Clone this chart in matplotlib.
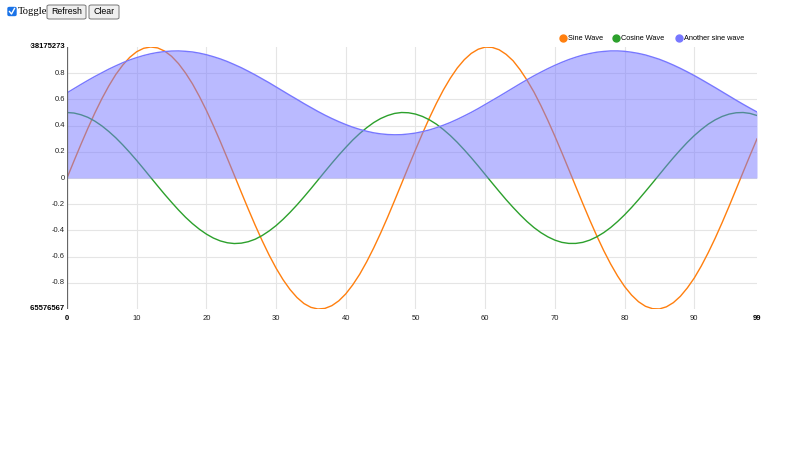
import matplotlib
matplotlib.use("Agg")
import matplotlib.pyplot as plt
from matplotlib.patches import FancyBboxPatch
from matplotlib.lines import Line2D
from matplotlib.transforms import Bbox, TransformedBbox

x_values = list(range(100))

sine_wave = [0.000, 0.130, 0.257, 0.380, 0.497, 0.605, 0.703, 0.790, 0.862, 0.921,
             0.964, 0.990, 1.000, 0.993, 0.969, 0.929, 0.873, 0.802, 0.719, 0.622,
             0.516, 0.400, 0.278, 0.151, 0.022, -0.108, -0.236, -0.360, -0.478, -0.588,
             -0.688, -0.776, -0.851, -0.912, -0.958, -0.987, -0.9995, -0.995, -0.974, -0.937,
             -0.884, -0.815, -0.734, -0.639, -0.534, -0.420, -0.299, -0.172, -0.043, 0.087,
             0.215, 0.340, 0.459, 0.570, 0.672, 0.762, 0.840, 0.903, 0.951, 0.983,
             0.999, 0.997, 0.979, 0.944, 0.895, 0.827, 0.747, 0.656, 0.552, 0.439,
             0.319, 0.194, 0.065, -0.065, -0.194, -0.320, -0.440, -0.553, -0.656, -0.748,
             -0.828, -0.893, -0.944, -0.979, -0.997, -0.999, -0.983, -0.951, -0.903, -0.839,
             -0.763, -0.672, -0.570, -0.459, -0.340, -0.215, -0.086, 0.044, 0.173, 0.299]

cosine_wave = [0.500, 0.496, 0.483, 0.463, 0.434, 0.398, 0.355, 0.307, 0.253, 0.195,
               0.134, 0.070, 0.005, -0.060, -0.124, -0.185, -0.244, -0.299, -0.348, -0.391,
               -0.428, -0.458, -0.480, -0.494, -0.500, -0.497, -0.486, -0.467, -0.439, -0.404,
               -0.363, -0.315, -0.262, -0.205, -0.144, -0.081, -0.016, 0.049, 0.113, 0.175,
               0.234, 0.290, 0.340, 0.384, 0.423, 0.454, 0.477, 0.493, 0.500, 0.498,
               0.488, 0.470, 0.444, 0.411, 0.370, 0.324, 0.272, 0.215, 0.155, 0.092,
               0.027, -0.038, -0.102, -0.165, -0.224, -0.280, -0.332, -0.378, -0.417, -0.449,
               -0.474, -0.491, -0.499, -0.499, -0.491, -0.474, -0.449, -0.417, -0.378, -0.332,
               -0.281, -0.225, -0.165, -0.102, -0.038, 0.027, 0.092, 0.155, 0.215, 0.272,
               0.324, 0.370, 0.411, 0.444, 0.470, 0.488, 0.498, 0.500, 0.493, 0.477]

another_sine = [0.650, 0.682, 0.714, 0.745, 0.775, 0.803, 0.831, 0.856, 0.880, 0.901,
                0.919, 0.935, 0.948, 0.958, 0.965, 0.969, 0.970, 0.967, 0.962, 0.953,
                0.941, 0.926, 0.909, 0.889, 0.866, 0.842, 0.815, 0.787, 0.757, 0.727,
                0.695, 0.663, 0.631, 0.600, 0.568, 0.538, 0.508, 0.480, 0.454, 0.430,
                0.408, 0.388, 0.371, 0.357, 0.345, 0.337, 0.332, 0.330, 0.331, 0.336,
                0.343, 0.354, 0.367, 0.384, 0.403, 0.424, 0.448, 0.474, 0.501, 0.530,
                0.561, 0.592, 0.623, 0.655, 0.687, 0.719, 0.750, 0.780, 0.808, 0.835,
                0.860, 0.883, 0.904, 0.922, 0.938, 0.950, 0.960, 0.966, 0.970, 0.970,
                0.967, 0.960, 0.951, 0.939, 0.923, 0.906, 0.885, 0.862, 0.837, 0.810,
                0.782, 0.752, 0.721, 0.690, 0.658, 0.626, 0.594, 0.563, 0.533, 0.504]

series_names = ["Sine Wave", "Cosine Wave", "Another sine wave"]
series_colors = ["#ff7f0e", "#2ca02c", "#7777ff"]
y_ticks = [-0.8, -0.6, -0.4, -0.2, 0, 0.2, 0.4, 0.6, 0.8]
y_tick_labels = ["-0.8", "-0.6", "-0.4", "-0.2", "0", "0.2", "0.4", "0.6", "0.8"]
x_ticks = [10, 20, 30, 40, 50, 60, 70, 80, 90]
y_max_label = "0.9999038175273"
y_min_label = "-0.9995065576567"

W, H = 800, 450
fig = plt.figure(figsize=(8, 4.5), dpi=100)
L, R, T, B = 67, 757, 47, 309
ax = fig.add_axes([L / W, 1 - B / H, (R - L) / W, (B - T) / H])
ymin, ymax = -0.9995, 0.9999
ax.set_xlim(0, 99)
ax.set_ylim(ymin, ymax)

for s in ax.spines.values():
    s.set_visible(False)
ax.set_xticks([])
ax.set_yticks([])

grid_c = "#e5e5e5"
for xt in x_ticks:
    ax.axvline(xt, color=grid_c, lw=0.8, zorder=0)
for yt in y_ticks:
    ax.axhline(yt, color=grid_c, lw=0.8, zorder=0)
ax.axvline(0, color="#666666", lw=0.9, zorder=6)

ax.plot(x_values, sine_wave, color=series_colors[0], lw=1.0, zorder=2)
ax.plot(x_values, cosine_wave, color=series_colors[1], lw=1.0, zorder=2)
ax.fill_between(x_values, another_sine, 0, color=series_colors[2], alpha=0.5, lw=0, zorder=3)
ax.plot(x_values, another_sine, color=series_colors[2], lw=1.0, zorder=4)

FONT = "Liberation Sans"
fs = 5.5
lab_x = (L - 2) / W
for yt, lab in zip(y_ticks, y_tick_labels):
    yf = 1 - (B - (yt - ymin) / (ymax - ymin) * (B - T)) / H
    fig.text(lab_x, yf, lab, ha="right", va="center", fontsize=fs, color="#222222", family=FONT)

clip = TransformedBbox(Bbox([[30 / W, 0], [1, 1]]), fig.transFigure)
for yv, lab in [(T, y_max_label), (B, y_min_label)]:
    t = fig.text(lab_x, 1 - yv / H, lab, ha="right", va="center", fontsize=fs,
                 fontweight="bold", color="#000000", family=FONT)
    t.set_clip_box(clip)
    t.set_clip_on(True)

for xt in x_ticks:
    fig.text((L + (R - L) * xt / 99) / W, 1 - 318 / H, str(xt), ha="center", va="center",
             fontsize=fs, color="#222222", family=FONT)
fig.text(L / W, 1 - 318 / H, "0", ha="center", va="center", fontsize=fs, fontweight="bold", family=FONT)
fig.text(R / W, 1 - 318 / H, "99", ha="center", va="center", fontsize=fs, fontweight="bold", family=FONT)

# legend
leg_items = [(563, series_names[0], series_colors[0]),
             (616, series_names[1], series_colors[1]),
             (679, series_names[2], series_colors[2])]
for px, name, col in leg_items:
    fig.add_artist(Line2D([px / W], [1 - 38 / H], marker="o", markersize=5.0,
                          markerfacecolor=col, markeredgecolor=col, linestyle="none"))
    fig.text((px + 5) / W, 1 - 38 / H, name, ha="left", va="center", fontsize=5.3,
             color="#000000", family=FONT)

# HTML-like controls
fig.add_artist(FancyBboxPatch((8 / W, 1 - 15.5 / H), 8 / W, 8 / H,
                              boxstyle="round,pad=0,rounding_size=0.002",
                              facecolor="#1a73e8", edgecolor="#1a73e8", transform=fig.transFigure))
fig.add_artist(Line2D([9.5 / W, 11.5 / W, 14.5 / W], [1 - 11.5 / H, 1 - 14 / H, 1 - 8.5 / H],
                      color="white", lw=1.0, transform=fig.transFigure))
fig.text(17.5 / W, 1 - 12 / H, "Toggle", ha="left", va="center", fontsize=7.6,
         family="Liberation Serif", color="#000000")
for x0, x1, lab in [(47, 86, "Refresh"), (89, 119, "Clear")]:
    fig.add_artist(FancyBboxPatch((x0 / W, 1 - 19 / H), (x1 - x0) / W, 14 / H,
                                  boxstyle="round,pad=0,rounding_size=0.003",
                                  facecolor="#efefef", edgecolor="#767676", lw=0.7,
                                  transform=fig.transFigure))
    fig.text((x0 + x1) / 2 / W, 1 - 12 / H, lab, ha="center", va="center", fontsize=6.3,
             family=FONT, color="#000000")

fig.savefig("out.png", dpi=100)
